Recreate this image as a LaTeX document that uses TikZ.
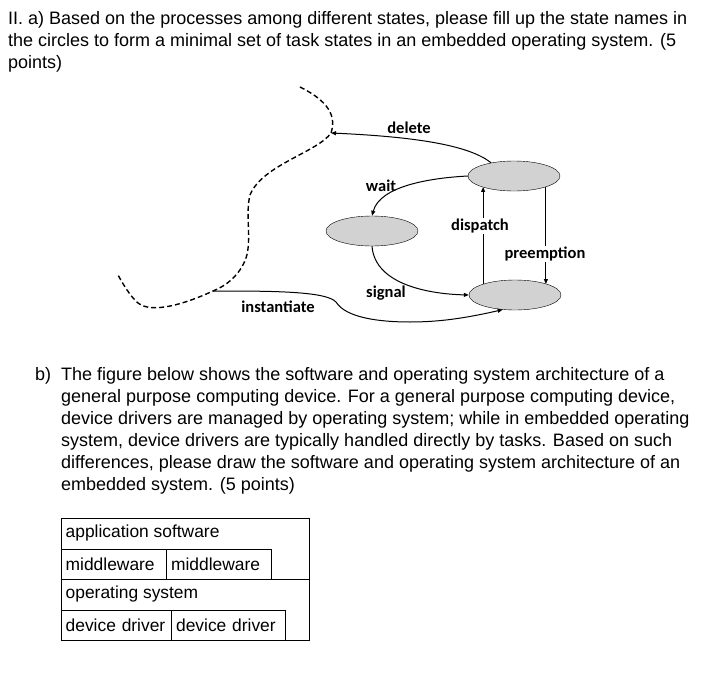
\documentclass[tikz,border=0pt]{standalone}
\usepackage{fontspec}
\setmainfont{Liberation Sans}
\newfontfamily\lblfont{Carlito}
\usetikzlibrary{arrows.meta,shapes.geometric}

\begin{document}
\begin{tikzpicture}[x=1pt,y=-1pt,
	state/.style={ellipse,draw,fill=gray!35,minimum width=92pt,minimum height=30pt,inner sep=0pt},
	lbl/.style={font=\lblfont\bfseries\fontsize{16.5}{16.5}\selectfont,inner sep=1pt,fill=white},
	para/.style={align=left,anchor=north west,inner sep=0pt,font=\fontsize{18}{22}\selectfont},
	arr/.style={-{Triangle[length=5pt,width=4pt]},line width=1pt},
	zone/.style={draw,anchor=north west,minimum width=248pt,minimum height=61pt,inner sep=0pt},
	cell/.style={anchor=north west,inner xsep=4.5pt,inner ysep=0pt,minimum height=30.5pt,align=left,font=\fontsize{17.4}{17.4}\selectfont}
]
\useasboundingbox (0,0) rectangle (724,699);

\node [para] (qa) at (8,11) {II. a) Based on the processes among different states, please fill up the state names in\\
the circles to form a minimal set of task states in an embedded operating system. (5\\
points)};

\node [state] (run) at (514,176) {};
\node [state] (blocked) at (372,231) {};
\node [state] (ready) at (515,295) {};

\coordinate (del) at (331,133);
\coordinate (ins) at (213,291);
\draw [line width=1.4pt,dash pattern=on 5pt off 3pt] (300,87) .. controls (322,98) and (338,112) .. (del)
	.. controls (318,152) and (262,165) .. (250,195)
	.. controls (245,215) and (252,240) .. (246,258)
	.. controls (240,275) and (226,286) .. (ins)
	.. controls (185,304) and (152,314) .. (138,303)
	.. controls (130,296) and (123,284) .. (118,275);

\draw [arr] (run.150) .. controls (470,146) and (420,137) .. (del);
\draw [arr] (run.west) .. controls (430,178) and (380,186) .. (blocked.north);
\draw [arr] (blocked.south) .. controls (375,285) and (430,294) .. (ready.west);
\draw [arr] (ready.161) -- (ready.161 |- run.199);
\draw [arr] (run.341) -- (run.341 |- ready.19);
\draw [arr] (ins) .. controls (270,291) and (326,291) .. (336,302)
	.. controls (346,318) and (380,322) .. (410,322)
	.. controls (440,322) and (466,318) .. (ready.230);

\node [lbl] (ldelete) at (409,128) {delete};
\node [lbl,fill=none] (lwait) at (381,186) {wait};
\node [lbl] (ldispatch) at (480,226) {dispatch};
\node [lbl] (lpreempt) at (545,254) {preemption};
\node [lbl,fill=none] (lsignal) at (386,293) {signal};
\node [lbl,fill=none] (linst) at (278,307) {instantiate};

\node [para,anchor=north west] (qb) at (35,367) {b)};
\node [para] (qbtext) at (61,367) {The figure below shows the software and operating system architecture of a\\
general purpose computing device. For a general purpose computing device,\\
device drivers are managed by operating system; while in embedded operating\\
system, device drivers are typically handled directly by tasks. Based on such\\
differences, please draw the software and operating system architecture of an\\
embedded system. (5 points)};

\node [zone] (upper) at (61,518) {};
\node [zone] (lower) at (61,579) {};
\node [cell] (app) at (61,518) {application software};
\node [cell,draw,text width=96pt] (mw1) at (61,548.5) {middleware};
\node [cell,draw,text width=96pt] (mw2) at (mw1.north east) {middleware};
\node [cell] (os) at (61,579) {operating system};
\node [cell,draw,text width=101pt] (dd1) at (61,609.5) {device driver};
\node [cell,draw,text width=105pt] (dd2) at (dd1.north east) {device driver};
\end{tikzpicture}
\end{document}
